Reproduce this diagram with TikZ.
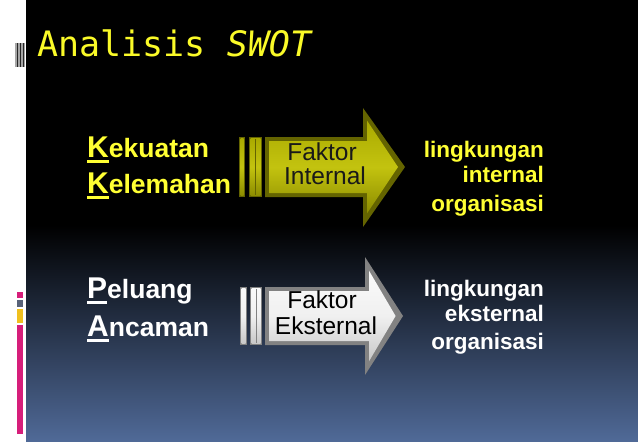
\documentclass[tikz,border=0pt]{standalone}
\usepackage{fontspec}
\setmainfont{Liberation Sans}
\newfontfamily\titlemono{DejaVu Sans Mono}
\definecolor{ttlY}{RGB}{250,250,40}
\definecolor{txtY}{RGB}{255,255,51}
\definecolor{bgblue}{RGB}{80,106,152}
\definecolor{magbar}{RGB}{214,30,122}
\definecolor{gbbar}{RGB}{88,98,120}
\definecolor{ylbar}{RGB}{240,192,30}
\definecolor{oliveOut}{RGB}{100,100,0}
\definecolor{oliveTop}{RGB}{170,170,0}
\definecolor{oliveMid}{RGB}{195,195,15}
\definecolor{oliveBot}{RGB}{140,140,0}
\definecolor{grayOut}{RGB}{130,130,130}
\definecolor{grayTop}{RGB}{250,250,250}
\definecolor{grayMid}{RGB}{240,240,240}
\definecolor{grayBot}{RGB}{200,200,200}
\newsavebox\ulbox
\newcommand\ulfirst[1]{\sbox\ulbox{\fontsize{30}{30}\selectfont #1}\rlap{\rule[-6pt]{\wd\ulbox}{2.8pt}}\usebox\ulbox}
\tikzset{
  lefttxt/.style={anchor=base west, inner sep=0pt, font=\bfseries\fontsize{26.5}{30}\selectfont},
  righttxt/.style={anchor=base east, inner sep=0pt, font=\bfseries\fontsize{22.5}{28}\selectfont},
  arrtxt/.style={anchor=base, inner sep=0pt, font=\fontsize{24.5}{25}\selectfont},
}
\begin{document}
\begin{tikzpicture}[x=1pt,y=-1pt]
\useasboundingbox (0,0) rectangle (638,442);
% background
\fill[white] (0,0) rectangle (26,442);
\fill[black] (26,0) rectangle (638,442);
\shade[top color=black, bottom color=bgblue] (26,225) rectangle (638,442);
% left decorations
\fill[black!35] (15,43) rectangle (25,67);
\fill[black!85] (16.5,43) rectangle (18,67);
\fill[black!85] (19.5,43) rectangle (21,67);
\fill[black!85] (22.5,43) rectangle (24,67);
\fill[magbar] (17,292) rectangle (23,298);
\fill[gbbar] (17,300) rectangle (23,307);
\fill[ylbar] (17,309) rectangle (23,323);
\fill[magbar] (17,325) rectangle (23,434);
% title
\node[anchor=base west, inner sep=0pt, text=ttlY, font=\titlemono\fontsize{35}{40}\selectfont] (title) at (37,56) {Analisis \textit{SWOT}};
% upper arrow
\fill[oliveOut] (239,137) rectangle (245,197);
\shade[top color=oliveTop, bottom color=oliveBot, middle color=oliveMid] (240.5,138.5) rectangle (243.5,195.5);
\fill[oliveOut] (249,137) rectangle (262,197);
\shade[top color=oliveTop, bottom color=oliveBot, middle color=oliveMid] (250.5,138.5) rectangle (260.5,195.5);
\draw[oliveOut, line width=1pt] (255.5,139) -- (255.5,195);
\fill[oliveOut] (265,137) -- (363,137) -- (363,108) -- (405,167) -- (363,227) -- (363,197) -- (265,197) -- cycle;
\shade[top color=oliveTop, bottom color=oliveBot, middle color=oliveMid] (269,141) -- (367,141) -- (367,120.6) -- (398,167) -- (367,213.4) -- (367,193) -- (269,193) -- cycle;
\node[arrtxt, text=black!90] (fi1) at (322,160) {Faktor};
\node[arrtxt, text=black!90] (fi2) at (325,184.5) {Internal};
% lower arrow
\fill[grayOut] (240,287) rectangle (247,345);
\shade[top color=grayTop, bottom color=grayBot, middle color=grayMid] (241.5,288.5) rectangle (245.5,343.5);
\fill[grayOut] (250,287) rectangle (262,345);
\shade[top color=grayTop, bottom color=grayBot, middle color=grayMid] (251.5,288.5) rectangle (260.5,343.5);
\draw[grayOut, line width=1pt] (256,289) -- (256,343);
\fill[grayOut] (265,287) -- (365,287) -- (365,257) -- (403,316) -- (365,375) -- (365,345) -- (265,345) -- cycle;
\shade[top color=grayTop, bottom color=grayBot, middle color=grayMid] (269,291) -- (369,291) -- (369,270.7) -- (395.6,316) -- (369,361.3) -- (369,341) -- (269,341) -- cycle;
\node[arrtxt, text=black] (fe1) at (322,308) {Faktor};
\node[arrtxt, text=black] (fe2) at (326,334) {Eksternal};
% left texts
\node[lefttxt, text=txtY] (kek) at (87,157) {\ulfirst{K}ekuatan};
\node[lefttxt, text=txtY] (kel) at (87,193) {\ulfirst{K}elemahan};
\node[lefttxt, text=white] (pel) at (87,298) {\ulfirst{P}eluang};
\node[lefttxt, text=white] (anc) at (87,336) {\ulfirst{A}ncaman};
% right texts
\node[righttxt, text=txtY] (ri1) at (544,157) {lingkungan};
\node[righttxt, text=txtY] (ri2) at (544,182) {internal};
\node[righttxt, text=txtY] (ri3) at (544,211) {organisasi};
\node[righttxt, text=white] (re1) at (544,296) {lingkungan};
\node[righttxt, text=white] (re2) at (544,321) {eksternal};
\node[righttxt, text=white] (re3) at (544,349) {organisasi};
\end{tikzpicture}
\end{document}
